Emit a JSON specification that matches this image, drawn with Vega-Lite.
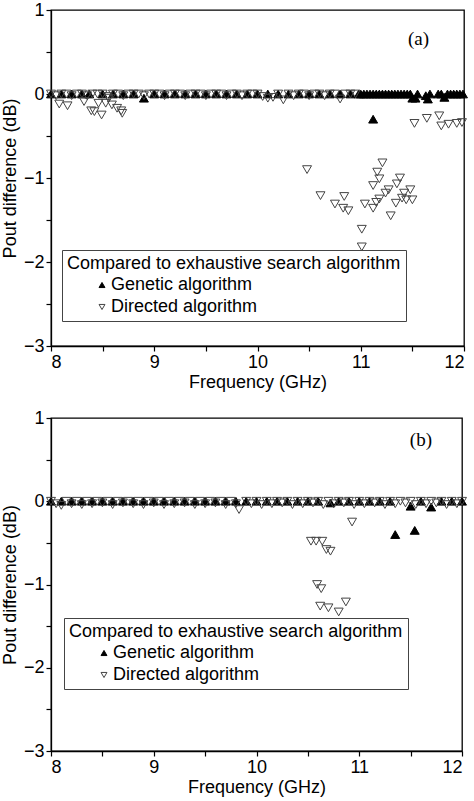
{
  "$schema": "https://vega.github.io/schema/vega-lite/v6.json",
  "padding": {"left": 0, "top": 0, "right": 5, "bottom": 2},
  "background": "white",
  "datasets": {
    "pts": [
      {"p":"a","s":"G","f":8.0,"v":0},{"p":"a","s":"G","f":8.1,"v":0},{"p":"a","s":"G","f":8.2,"v":0},{"p":"a","s":"G","f":8.3,"v":0},{"p":"a","s":"G","f":8.37,"v":0},{"p":"a","s":"G","f":8.5,"v":0},{"p":"a","s":"G","f":8.6,"v":0},{"p":"a","s":"G","f":8.7,"v":0},{"p":"a","s":"G","f":8.8,"v":0},{"p":"a","s":"G","f":8.9,"v":-0.05},
      {"p":"a","s":"G","f":9.0,"v":0},{"p":"a","s":"G","f":9.1,"v":0},{"p":"a","s":"G","f":9.2,"v":0},{"p":"a","s":"G","f":9.3,"v":0},{"p":"a","s":"G","f":9.4,"v":0},{"p":"a","s":"G","f":9.5,"v":0},{"p":"a","s":"G","f":9.6,"v":0},{"p":"a","s":"G","f":9.7,"v":0},{"p":"a","s":"G","f":9.8,"v":0},{"p":"a","s":"G","f":9.9,"v":0},
      {"p":"a","s":"G","f":10.0,"v":0},{"p":"a","s":"G","f":10.1,"v":0},{"p":"a","s":"G","f":10.2,"v":0},{"p":"a","s":"G","f":10.3,"v":0},{"p":"a","s":"G","f":10.4,"v":0},{"p":"a","s":"G","f":10.5,"v":0},{"p":"a","s":"G","f":10.6,"v":0},{"p":"a","s":"G","f":10.7,"v":0},{"p":"a","s":"G","f":10.8,"v":0},{"p":"a","s":"G","f":10.9,"v":0},
      {"p":"a","s":"G","f":10.98,"v":0},{"p":"a","s":"G","f":11.0,"v":0},{"p":"a","s":"G","f":11.03,"v":0},{"p":"a","s":"G","f":11.06,"v":0},{"p":"a","s":"G","f":11.09,"v":0},{"p":"a","s":"G","f":11.12,"v":0},{"p":"a","s":"G","f":11.15,"v":0},{"p":"a","s":"G","f":11.18,"v":0},{"p":"a","s":"G","f":11.21,"v":0},{"p":"a","s":"G","f":11.24,"v":0},
      {"p":"a","s":"G","f":11.27,"v":0},{"p":"a","s":"G","f":11.3,"v":0},{"p":"a","s":"G","f":11.33,"v":0},{"p":"a","s":"G","f":11.36,"v":0},{"p":"a","s":"G","f":11.39,"v":0},{"p":"a","s":"G","f":11.42,"v":0},{"p":"a","s":"G","f":11.45,"v":0},{"p":"a","s":"G","f":11.48,"v":0},{"p":"a","s":"G","f":11.5,"v":-0.05},{"p":"a","s":"G","f":11.53,"v":-0.05},
      {"p":"a","s":"G","f":11.55,"v":0},{"p":"a","s":"G","f":11.63,"v":-0.02},{"p":"a","s":"G","f":11.65,"v":-0.06},{"p":"a","s":"G","f":11.67,"v":0},{"p":"a","s":"G","f":11.75,"v":0},{"p":"a","s":"G","f":11.78,"v":0},{"p":"a","s":"G","f":11.81,"v":-0.04},{"p":"a","s":"G","f":11.84,"v":0},{"p":"a","s":"G","f":11.87,"v":0},{"p":"a","s":"G","f":11.9,"v":0},
      {"p":"a","s":"G","f":11.93,"v":0},{"p":"a","s":"G","f":11.96,"v":0},{"p":"a","s":"G","f":11.99,"v":0},{"p":"a","s":"G","f":11.12,"v":-0.3},

      {"p":"a","s":"D","f":8.0,"v":0},{"p":"a","s":"D","f":8.05,"v":-0.02},{"p":"a","s":"D","f":8.1,"v":0},{"p":"a","s":"D","f":8.15,"v":0},{"p":"a","s":"D","f":8.2,"v":-0.02},{"p":"a","s":"D","f":8.25,"v":0},{"p":"a","s":"D","f":8.3,"v":0},{"p":"a","s":"D","f":8.35,"v":-0.02},{"p":"a","s":"D","f":8.4,"v":0},{"p":"a","s":"D","f":8.45,"v":0},
      {"p":"a","s":"D","f":8.5,"v":0},{"p":"a","s":"D","f":8.55,"v":-0.03},{"p":"a","s":"D","f":8.6,"v":0},{"p":"a","s":"D","f":8.65,"v":0},{"p":"a","s":"D","f":8.7,"v":-0.02},{"p":"a","s":"D","f":8.75,"v":0},{"p":"a","s":"D","f":8.8,"v":0},{"p":"a","s":"D","f":8.85,"v":0},{"p":"a","s":"D","f":8.9,"v":-0.02},{"p":"a","s":"D","f":8.95,"v":0},
      {"p":"a","s":"D","f":9.0,"v":0},{"p":"a","s":"D","f":9.05,"v":0},{"p":"a","s":"D","f":9.1,"v":-0.02},{"p":"a","s":"D","f":9.15,"v":0},{"p":"a","s":"D","f":9.2,"v":0},{"p":"a","s":"D","f":9.25,"v":0},{"p":"a","s":"D","f":9.3,"v":-0.02},{"p":"a","s":"D","f":9.35,"v":0},{"p":"a","s":"D","f":9.4,"v":0},{"p":"a","s":"D","f":9.45,"v":0},
      {"p":"a","s":"D","f":9.5,"v":-0.02},{"p":"a","s":"D","f":9.55,"v":0},{"p":"a","s":"D","f":9.6,"v":0},{"p":"a","s":"D","f":9.65,"v":0},{"p":"a","s":"D","f":9.7,"v":-0.02},{"p":"a","s":"D","f":9.75,"v":0},{"p":"a","s":"D","f":9.8,"v":0},{"p":"a","s":"D","f":9.85,"v":-0.02},{"p":"a","s":"D","f":9.9,"v":0},{"p":"a","s":"D","f":9.95,"v":0},
      {"p":"a","s":"D","f":10.0,"v":0},{"p":"a","s":"D","f":10.05,"v":-0.03},{"p":"a","s":"D","f":10.1,"v":-0.05},{"p":"a","s":"D","f":10.15,"v":-0.04},{"p":"a","s":"D","f":10.2,"v":0},{"p":"a","s":"D","f":10.25,"v":-0.07},{"p":"a","s":"D","f":10.3,"v":0},{"p":"a","s":"D","f":10.35,"v":-0.02},{"p":"a","s":"D","f":10.4,"v":0},{"p":"a","s":"D","f":10.45,"v":0},
      {"p":"a","s":"D","f":10.5,"v":-0.02},{"p":"a","s":"D","f":10.55,"v":0},{"p":"a","s":"D","f":10.6,"v":0},{"p":"a","s":"D","f":10.65,"v":-0.02},{"p":"a","s":"D","f":10.7,"v":0},{"p":"a","s":"D","f":10.75,"v":0},{"p":"a","s":"D","f":10.8,"v":-0.06},{"p":"a","s":"D","f":10.85,"v":0},{"p":"a","s":"D","f":10.9,"v":0},{"p":"a","s":"D","f":10.95,"v":0},
      {"p":"a","s":"D","f":8.08,"v":-0.12},{"p":"a","s":"D","f":8.16,"v":-0.14},{"p":"a","s":"D","f":8.32,"v":-0.09},{"p":"a","s":"D","f":8.39,"v":-0.2},{"p":"a","s":"D","f":8.42,"v":-0.21},{"p":"a","s":"D","f":8.46,"v":-0.11},{"p":"a","s":"D","f":8.49,"v":-0.25},{"p":"a","s":"D","f":8.53,"v":-0.11},{"p":"a","s":"D","f":8.56,"v":-0.05},{"p":"a","s":"D","f":8.59,"v":-0.13},
      {"p":"a","s":"D","f":8.64,"v":-0.17},{"p":"a","s":"D","f":8.68,"v":-0.2},{"p":"a","s":"D","f":8.69,"v":-0.23},
      {"p":"a","s":"D","f":10.48,"v":-0.9},{"p":"a","s":"D","f":10.61,"v":-1.21},{"p":"a","s":"D","f":10.75,"v":-1.31},{"p":"a","s":"D","f":10.84,"v":-1.22},{"p":"a","s":"D","f":10.83,"v":-1.36},{"p":"a","s":"D","f":10.88,"v":-1.39},{"p":"a","s":"D","f":11.01,"v":-1.61},{"p":"a","s":"D","f":11.01,"v":-1.82},{"p":"a","s":"D","f":11.04,"v":-1.31},{"p":"a","s":"D","f":11.12,"v":-1.36},
      {"p":"a","s":"D","f":11.15,"v":-1.29},{"p":"a","s":"D","f":11.18,"v":-1.25},{"p":"a","s":"D","f":11.12,"v":-1.09},{"p":"a","s":"D","f":11.16,"v":-0.93},{"p":"a","s":"D","f":11.18,"v":-1.01},{"p":"a","s":"D","f":11.21,"v":-0.82},{"p":"a","s":"D","f":11.24,"v":-1.18},{"p":"a","s":"D","f":11.27,"v":-1.14},{"p":"a","s":"D","f":11.29,"v":-1.45},{"p":"a","s":"D","f":11.34,"v":-1.3},
      {"p":"a","s":"D","f":11.35,"v":-1.07},{"p":"a","s":"D","f":11.38,"v":-1.0},{"p":"a","s":"D","f":11.4,"v":-1.24},{"p":"a","s":"D","f":11.42,"v":-1.18},{"p":"a","s":"D","f":11.44,"v":-1.26},{"p":"a","s":"D","f":11.48,"v":-1.14},{"p":"a","s":"D","f":11.5,"v":-1.26},
      {"p":"a","s":"D","f":11.52,"v":-0.35},{"p":"a","s":"D","f":11.64,"v":-0.29},{"p":"a","s":"D","f":11.76,"v":-0.26},{"p":"a","s":"D","f":11.78,"v":-0.38},{"p":"a","s":"D","f":11.85,"v":-0.36},{"p":"a","s":"D","f":11.93,"v":-0.35},{"p":"a","s":"D","f":11.98,"v":-0.34},

      {"p":"b","s":"G","f":8.0,"v":0},{"p":"b","s":"G","f":8.1,"v":0},{"p":"b","s":"G","f":8.2,"v":0},{"p":"b","s":"G","f":8.3,"v":0},{"p":"b","s":"G","f":8.4,"v":0},{"p":"b","s":"G","f":8.5,"v":0},{"p":"b","s":"G","f":8.6,"v":0},{"p":"b","s":"G","f":8.7,"v":0},{"p":"b","s":"G","f":8.8,"v":0},{"p":"b","s":"G","f":8.9,"v":0},
      {"p":"b","s":"G","f":9.0,"v":0},{"p":"b","s":"G","f":9.1,"v":0},{"p":"b","s":"G","f":9.2,"v":0},{"p":"b","s":"G","f":9.3,"v":0},{"p":"b","s":"G","f":9.4,"v":0},{"p":"b","s":"G","f":9.5,"v":0},{"p":"b","s":"G","f":9.6,"v":0},{"p":"b","s":"G","f":9.7,"v":0},{"p":"b","s":"G","f":9.8,"v":0},{"p":"b","s":"G","f":9.9,"v":0},
      {"p":"b","s":"G","f":10.0,"v":0},{"p":"b","s":"G","f":10.1,"v":0},{"p":"b","s":"G","f":10.2,"v":0},{"p":"b","s":"G","f":10.3,"v":0},{"p":"b","s":"G","f":10.4,"v":0},{"p":"b","s":"G","f":10.5,"v":0},{"p":"b","s":"G","f":10.6,"v":0},{"p":"b","s":"G","f":10.72,"v":-0.02},{"p":"b","s":"G","f":10.8,"v":0},{"p":"b","s":"G","f":10.9,"v":0},
      {"p":"b","s":"G","f":11.0,"v":0},{"p":"b","s":"G","f":11.1,"v":0},{"p":"b","s":"G","f":11.2,"v":0},{"p":"b","s":"G","f":11.3,"v":0},{"p":"b","s":"G","f":11.6,"v":0},{"p":"b","s":"G","f":11.8,"v":0},{"p":"b","s":"G","f":11.9,"v":0},{"p":"b","s":"G","f":12.0,"v":0},
      {"p":"b","s":"G","f":11.35,"v":-0.4},{"p":"b","s":"G","f":11.54,"v":-0.35},{"p":"b","s":"G","f":11.5,"v":-0.06},{"p":"b","s":"G","f":11.7,"v":-0.07},

      {"p":"b","s":"D","f":8.0,"v":0},{"p":"b","s":"D","f":8.05,"v":-0.03},{"p":"b","s":"D","f":8.1,"v":-0.05},{"p":"b","s":"D","f":8.15,"v":0},{"p":"b","s":"D","f":8.2,"v":-0.03},{"p":"b","s":"D","f":8.25,"v":0},{"p":"b","s":"D","f":8.3,"v":-0.04},{"p":"b","s":"D","f":8.35,"v":0},{"p":"b","s":"D","f":8.4,"v":-0.03},{"p":"b","s":"D","f":8.45,"v":0},
      {"p":"b","s":"D","f":8.5,"v":-0.02},{"p":"b","s":"D","f":8.55,"v":0},{"p":"b","s":"D","f":8.6,"v":-0.04},{"p":"b","s":"D","f":8.65,"v":0},{"p":"b","s":"D","f":8.7,"v":-0.02},{"p":"b","s":"D","f":8.75,"v":0},{"p":"b","s":"D","f":8.8,"v":-0.03},{"p":"b","s":"D","f":8.85,"v":0},{"p":"b","s":"D","f":8.9,"v":-0.04},{"p":"b","s":"D","f":8.95,"v":0},
      {"p":"b","s":"D","f":9.0,"v":-0.02},{"p":"b","s":"D","f":9.05,"v":0},{"p":"b","s":"D","f":9.1,"v":-0.04},{"p":"b","s":"D","f":9.15,"v":0},{"p":"b","s":"D","f":9.2,"v":-0.03},{"p":"b","s":"D","f":9.25,"v":0},{"p":"b","s":"D","f":9.3,"v":-0.02},{"p":"b","s":"D","f":9.35,"v":0},{"p":"b","s":"D","f":9.4,"v":-0.04},{"p":"b","s":"D","f":9.45,"v":0},
      {"p":"b","s":"D","f":9.5,"v":-0.03},{"p":"b","s":"D","f":9.55,"v":0},{"p":"b","s":"D","f":9.6,"v":-0.02},{"p":"b","s":"D","f":9.65,"v":0},{"p":"b","s":"D","f":9.7,"v":-0.04},{"p":"b","s":"D","f":9.75,"v":0},{"p":"b","s":"D","f":9.8,"v":-0.03},{"p":"b","s":"D","f":9.83,"v":-0.1},{"p":"b","s":"D","f":9.9,"v":0},{"p":"b","s":"D","f":9.95,"v":-0.03},
      {"p":"b","s":"D","f":10.0,"v":0},{"p":"b","s":"D","f":10.05,"v":-0.04},{"p":"b","s":"D","f":10.1,"v":0},{"p":"b","s":"D","f":10.15,"v":-0.03},{"p":"b","s":"D","f":10.2,"v":0},{"p":"b","s":"D","f":10.25,"v":-0.02},{"p":"b","s":"D","f":10.3,"v":0},{"p":"b","s":"D","f":10.35,"v":-0.04},{"p":"b","s":"D","f":10.4,"v":0},{"p":"b","s":"D","f":10.45,"v":-0.03},
      {"p":"b","s":"D","f":10.5,"v":0},{"p":"b","s":"D","f":10.55,"v":-0.02},{"p":"b","s":"D","f":10.6,"v":0},{"p":"b","s":"D","f":10.65,"v":-0.04},{"p":"b","s":"D","f":10.7,"v":0},{"p":"b","s":"D","f":10.75,"v":-0.03},{"p":"b","s":"D","f":10.8,"v":0},{"p":"b","s":"D","f":10.85,"v":-0.02},{"p":"b","s":"D","f":10.9,"v":0},{"p":"b","s":"D","f":10.95,"v":-0.04},
      {"p":"b","s":"D","f":11.0,"v":0},{"p":"b","s":"D","f":11.05,"v":-0.03},{"p":"b","s":"D","f":11.1,"v":0},{"p":"b","s":"D","f":11.15,"v":-0.02},{"p":"b","s":"D","f":11.2,"v":0},{"p":"b","s":"D","f":11.25,"v":-0.04},{"p":"b","s":"D","f":11.3,"v":0},{"p":"b","s":"D","f":11.35,"v":-0.03},{"p":"b","s":"D","f":11.4,"v":0},{"p":"b","s":"D","f":11.45,"v":-0.02},
      {"p":"b","s":"D","f":11.5,"v":0},{"p":"b","s":"D","f":11.55,"v":-0.04},{"p":"b","s":"D","f":11.6,"v":0},{"p":"b","s":"D","f":11.65,"v":-0.03},{"p":"b","s":"D","f":11.7,"v":0},{"p":"b","s":"D","f":11.75,"v":-0.02},{"p":"b","s":"D","f":11.8,"v":0},{"p":"b","s":"D","f":11.85,"v":-0.04},{"p":"b","s":"D","f":11.9,"v":0},{"p":"b","s":"D","f":11.95,"v":-0.03},
      {"p":"b","s":"D","f":12.0,"v":0},
      {"p":"b","s":"D","f":10.93,"v":-0.25},{"p":"b","s":"D","f":10.53,"v":-0.48},{"p":"b","s":"D","f":10.58,"v":-0.48},{"p":"b","s":"D","f":10.64,"v":-0.48},{"p":"b","s":"D","f":10.68,"v":-0.58},{"p":"b","s":"D","f":10.72,"v":-0.6},{"p":"b","s":"D","f":10.59,"v":-1.0},{"p":"b","s":"D","f":10.63,"v":-1.05},{"p":"b","s":"D","f":10.62,"v":-1.26},{"p":"b","s":"D","f":10.7,"v":-1.28},
      {"p":"b","s":"D","f":10.8,"v":-1.33},{"p":"b","s":"D","f":10.87,"v":-1.21}
    ],
    "tags": [
      {"p":"a","t":"(a)","f":11.56,"v":0.65},
      {"p":"b","t":"(b)","f":11.6,"v":0.74}
    ]
  },
  "config": {
    "font": "Liberation Sans",
    "view": {"stroke": "black", "strokeWidth": 1.3},
    "axis": {
      "grid": false,
      "domainColor": "black",
      "domainWidth": 1.3,
      "tickColor": "black",
      "tickWidth": 1.2,
      "tickSize": 5,
      "labelColor": "black",
      "labelFont": "Liberation Sans",
      "labelFontSize": 18,
      "titleColor": "black",
      "titleFont": "Liberation Sans",
      "titleFontSize": 18,
      "titleFontWeight": "normal",
      "format": "d"
    },
    "legend": {
      "strokeColor": "#444",
      "fillColor": "white",
      "padding": 5,
      "titleFont": "Liberation Sans",
      "titleFontSize": 18,
      "titleFontWeight": "normal",
      "titleColor": "black",
      "titlePadding": 3,
      "titleLimit": 500,
      "labelLimit": 400,
      "labelFont": "Liberation Sans",
      "labelFontSize": 18,
      "labelColor": "black",
      "symbolOffset": 26,
      "labelOffset": 0,
      "rowPadding": 4,
      "symbolSize": 35,
      "symbolStrokeWidth": 1
    }
  },
  "spacing": 16,
  "resolve": {"scale": {"shape": "independent", "fill": "independent", "stroke": "independent"}, "legend": {"shape": "independent", "fill": "independent", "stroke": "independent"}},
  "vconcat": [
    {
      "width": 413,
      "height": 336,
      "layer": [
        {
          "data": {"name": "pts"},
          "transform": [{"filter": "datum.p === 'a'"}],
          "mark": {"type": "point", "size": 80, "strokeWidth": 1, "opacity": 1},
          "encoding": {
            "x": {"field": "f", "type": "quantitative", "scale": {"domain": [8, 12], "nice": false}, "axis": {"title": "Frequency (GHz)", "values": [8,8.5,9,9.5,10,10.5,11,11.5,12], "labelExpr": "datum.value % 1 === 0 ? datum.label : ''", "titlePadding": 2}},
            "y": {"field": "v", "type": "quantitative", "scale": {"domain": [-3, 1], "nice": false}, "axis": {"title": "Pout difference (dB)", "values": [-3,-2.5,-2,-1.5,-1,-0.5,0,0.5,1], "labelExpr": "datum.value % 1 === 0 ? datum.label : ''", "titlePadding": 4}},
            "shape": {"field": "s", "type": "nominal", "scale": {"domain": ["G","D"], "range": ["triangle-up","triangle-down"]}, "legend": {"title": "Compared to exhaustive search algorithm", "orient": "none", "legendX": 11, "legendY": 240, "labelExpr": "datum.label === 'G' ? 'Genetic algorithm' : 'Directed algorithm'"}},
            "fill": {"field": "s", "type": "nominal", "scale": {"domain": ["G","D"], "range": ["black","transparent"]}, "legend": {"title": "Compared to exhaustive search algorithm", "orient": "none", "legendX": 11, "legendY": 240, "labelExpr": "datum.label === 'G' ? 'Genetic algorithm' : 'Directed algorithm'"}},
            "stroke": {"field": "s", "type": "nominal", "scale": {"domain": ["G","D"], "range": ["black","#444"]}, "legend": {"title": "Compared to exhaustive search algorithm", "orient": "none", "legendX": 11, "legendY": 240, "labelExpr": "datum.label === 'G' ? 'Genetic algorithm' : 'Directed algorithm'"}}
          }
        },
        {
          "data": {"name": "tags"},
          "transform": [{"filter": "datum.p === 'a'"}],
          "mark": {"type": "text", "font": "Liberation Serif", "fontSize": 19, "color": "black"},
          "encoding": {
            "x": {"field": "f", "type": "quantitative"},
            "y": {"field": "v", "type": "quantitative"},
            "text": {"field": "t"}
          }
        }
      ]
    },
    {
      "width": 411,
      "height": 333,
      "layer": [
        {
          "data": {"name": "pts"},
          "transform": [{"filter": "datum.p === 'b'"}],
          "mark": {"type": "point", "size": 80, "strokeWidth": 1, "opacity": 1},
          "encoding": {
            "x": {"field": "f", "type": "quantitative", "scale": {"domain": [8, 12], "nice": false}, "axis": {"title": "Frequency (GHz)", "values": [8,8.5,9,9.5,10,10.5,11,11.5,12], "labelExpr": "datum.value % 1 === 0 ? datum.label : ''", "titlePadding": 2}},
            "y": {"field": "v", "type": "quantitative", "scale": {"domain": [-3, 1], "nice": false}, "axis": {"title": "Pout difference (dB)", "values": [-3,-2.5,-2,-1.5,-1,-0.5,0,0.5,1], "labelExpr": "datum.value % 1 === 0 ? datum.label : ''", "titlePadding": 4}},
            "shape": {"field": "s", "type": "nominal", "scale": {"domain": ["G","D"], "range": ["triangle-up","triangle-down"]}, "legend": {"title": "Compared to exhaustive search algorithm", "orient": "none", "legendX": 13, "legendY": 200, "labelExpr": "datum.label === 'G' ? 'Genetic algorithm' : 'Directed algorithm'"}},
            "fill": {"field": "s", "type": "nominal", "scale": {"domain": ["G","D"], "range": ["black","transparent"]}, "legend": {"title": "Compared to exhaustive search algorithm", "orient": "none", "legendX": 13, "legendY": 200, "labelExpr": "datum.label === 'G' ? 'Genetic algorithm' : 'Directed algorithm'"}},
            "stroke": {"field": "s", "type": "nominal", "scale": {"domain": ["G","D"], "range": ["black","#444"]}, "legend": {"title": "Compared to exhaustive search algorithm", "orient": "none", "legendX": 13, "legendY": 200, "labelExpr": "datum.label === 'G' ? 'Genetic algorithm' : 'Directed algorithm'"}}
          }
        },
        {
          "data": {"name": "tags"},
          "transform": [{"filter": "datum.p === 'b'"}],
          "mark": {"type": "text", "font": "Liberation Serif", "fontSize": 19, "color": "black"},
          "encoding": {
            "x": {"field": "f", "type": "quantitative"},
            "y": {"field": "v", "type": "quantitative"},
            "text": {"field": "t"}
          }
        }
      ]
    }
  ]
}
